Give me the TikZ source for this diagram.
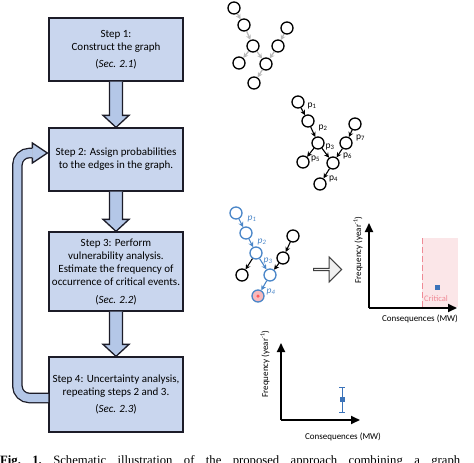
\documentclass[tikz,border=0pt]{standalone}
\usepackage{fontspec}
\setmainfont{Carlito}
\newfontfamily\capfont{Liberation Serif}
\usetikzlibrary{arrows.meta,calc,shapes.arrows}

\definecolor{boxblue}{HTML}{C9D6EE}
\definecolor{arrowblue}{HTML}{B4C7E7}
\definecolor{edgeblue}{HTML}{4A86C8}
\definecolor{critpink}{HTML}{F08A96}
\definecolor{critfill}{HTML}{FBE6E8}
\definecolor{markblue}{HTML}{3B73B9}
\definecolor{nodepink}{HTML}{F6B9BC}
\definecolor{outline}{HTML}{1C1C28}

\tikzset{
    stepbox/.style={draw=outline, line width=1.3pt, fill=boxblue, minimum width=134pt,
                    align=center, inner sep=2pt, font=\fontsize{11}{13}\selectfont},
    blockarrow/.style={draw=outline, line width=1.3pt, fill=arrowblue},
    vertex/.style={circle, draw, line width=1.3pt, minimum size=12pt, inner sep=0pt, fill=white},
    lab/.style={inner sep=0pt, font=\fontsize{9.5}{10}\selectfont},
    tip/.style={-{Stealth[length=5pt,width=5pt]}},
    axis/.style={line width=1.8pt, -{Triangle[length=9pt,width=8pt]}},
    axlabel/.style={inner sep=0pt, font=\fontsize{9}{10}\selectfont}
}

\begin{document}
\begin{tikzpicture}[x=1pt,y=-1pt]
    \useasboundingbox (0,0) rectangle (474,463);

    % flow chart
    \node (S1) [stepbox, minimum height=63pt] at (116,49.5)
        {Step 1:\\Construct the graph\\[4pt](\textit{Sec. 2.1})};
    \node (S2) [stepbox, minimum height=63pt] at (116,159.5)
        {Step 2: Assign probabilities\\to the edges in the graph.};
    \node (S3) [stepbox, minimum height=79pt] at (116,271.5)
        {Step 3: Perform\\vulnerability analysis.\\Estimate the frequency of\\occurrence of critical events.\\[5pt](\textit{Sec. 2.2})};
    \node (S4) [stepbox, minimum height=75pt] at (116,394.5)
        {Step 4: Uncertainty analysis,\\repeating steps 2 and 3.\\[4pt](\textit{Sec. 2.3})};

    \foreach \a/\b in {S1/S2, S2/S3, S3/S4}
        \draw [blockarrow] ($(\a.south)+(-6.5,0)$) -- ($(\b.north)+(-6.5,-12)$)
            -- ($(\b.north)+(-13,-12)$) -- (\b.north) -- ($(\b.north)+(13,-12)$)
            -- ($(\b.north)+(6.5,-12)$) -- ($(\a.south)+(6.5,0)$);

    % feedback loop
    \draw [line width=1.3pt, draw=outline, double=arrowblue, double distance=8pt, rounded corners=12pt]
        ($(S4.west)+(0,3.5)$) -- ++(-31,0) -- ($(S2.west)+(-31,-6.5)$) -- ($(S2.west)+(-16,-6.5)$);
    \draw [blockarrow] ($(S2.west)+(-16,-11.2)$) -- ($(S2.west)+(-16,-16.5)$) -- ($(S2.west)+(-1,-6.5)$)
        -- ($(S2.west)+(-16,3.5)$) -- ($(S2.west)+(-16,-1.8)$);

    % graphs
    \begin{scope}[every node/.style={vertex}]
        \node (n1) at (234,8) {};
        \node (n2) at (244,25) {};
        \node (n3) at (253,46) {};
        \node (n4) at (239,63) {};
        \node (n5) at (266,64) {};
        \node (n6) at (278,46) {};
        \node (n7) at (287,28) {};
        \node (n8) at (254,83) {};

        \node (m1) at (298,102) {};
        \node (m2) at (308,121) {};
        \node (m3) at (318,143) {};
        \node (m5) at (303,162) {};
        \node (m4) at (333,163) {};
        \node (m6) at (346,143) {};
        \node (m7) at (355,124) {};
        \node (m8) at (320,184) {};

        \node (q1) [draw=edgeblue] at (236,213) {};
        \node (q2) [draw=edgeblue] at (246,233) {};
        \node (q3) [draw=edgeblue] at (256,253) {};
        \node (q5) at (242,275) {};
        \node (q4) [draw=edgeblue] at (270,275) {};
        \node (q6) at (283,258) {};
        \node (q7) at (293,236) {};
        \node (q8) [draw=edgeblue, fill=nodepink] at (258,296) {};
    \end{scope}
    \node (q8dot) [circle, fill=red!65, minimum size=3.5pt, inner sep=0pt] at (q8) {};

    \begin{scope}[every edge/.style={draw=gray!55, line width=1.3pt}]
        \path [tip] (n1) edge (n2) (n2) edge (n3) (n3) edge (n4) (n3) edge (n5)
              (n6) edge (n5) (n7) edge (n6) (n5) edge (n8);
    \end{scope}

    \begin{scope}[every edge/.style={draw=black, line width=1.1pt}]
        \path [tip] (m1) edge node[lab, xshift=9pt, yshift=5.5pt] {p\textsubscript{1}} (m2);
        \path [tip] (m2) edge node[lab, xshift=10pt, yshift=4pt] {p\textsubscript{2}} (m3);
        \path [tip] (m3) edge node[lab, xshift=4.5pt, yshift=6pt] {p\textsubscript{3}} (m4);
        \path [tip] (m3) edge node[lab, xshift=5pt, yshift=-6.5pt] {p\textsubscript{5}} (m5);
        \path [tip] (m6) edge node[lab, xshift=8pt, yshift=-3pt] {p\textsubscript{6}} (m4);
        \path [tip] (m7) edge node[lab, xshift=10pt, yshift=-4.5pt] {p\textsubscript{7}} (m6);
        \path [tip] (m4) edge node[lab, xshift=7pt, yshift=-5.5pt] {p\textsubscript{4}} (m8);

        \path [tip] (q3) edge (q5) (q7) edge (q6) (q6) edge (q4);
    \end{scope}

    \begin{scope}[every edge/.style={draw=edgeblue, line width=1.1pt},
                  every node/.style={lab, text=edgeblue, font=\fontsize{9.5}{10}\selectfont\itshape}]
        \path [tip] (q1) edge node[xshift=11pt, yshift=4pt] {p\textsubscript{1}} (q2);
        \path [tip] (q2) edge node[xshift=11pt, yshift=1pt] {p\textsubscript{2}} (q3);
        \path [tip] (q3) edge node[xshift=5pt, yshift=3pt] {p\textsubscript{3}} (q4);
        \path [tip] (q4) edge node[xshift=7pt, yshift=-6.5pt] {p\textsubscript{4}} (q8);
    \end{scope}

    \node (toplot) [single arrow, draw=gray!50!black, fill=gray!12, line width=1pt, inner sep=0pt,
        minimum width=25pt, minimum height=28pt, single arrow head extend=5pt] at (327,269.5) {};

    % frequency-consequence plot with critical region
    \coordinate (O1) at (369,308);
    \fill [critfill] (422,238) rectangle (458,307);
    \draw [critpink, line width=1pt, dash pattern=on 6pt off 3pt] (422,238) -- (422,307);
    \node (crit) [inner sep=0pt, text=critpink, font=\fontsize{8.5}{9}\selectfont] at (436,299) {Critical};
    \node (pt1) [fill=markblue, minimum size=5pt, inner sep=0pt] at (437,287) {};
    \draw [axis] (O1) -- ++(0,-85);
    \draw [axis] (O1) -- ++(88,0);
    \node (freq1) [axlabel, rotate=90] at (358,250) {Frequency (year\textsuperscript{-1})};
    \node (cons1) [axlabel] at (420,319) {Consequences (MW)};

    % plot with uncertainty
    \coordinate (O2) at (281,420);
    \draw [axis] (O2) -- ++(0,-77);
    \draw [axis] (O2) -- ++(79,0);
    \draw [markblue, line width=1pt] (342,387) -- (342,412) (339,387) -- (345,387) (339,412) -- (345,412);
    \node (pt2) [fill=markblue, minimum size=5pt, inner sep=0pt] at (342,399) {};
    \node (freq2) [axlabel, rotate=90] at (265,364) {Frequency (year\textsuperscript{-1})};
    \node (cons2) [axlabel] at (343,437) {Consequences (MW)};

    % caption, cut by the page edge
    \node (caption) [anchor=base west, inner sep=0pt, font=\capfont\fontsize{12.7}{14}\selectfont] at (0,464)
        {\frenchspacing\makebox[460pt][s]{\textbf{Fig. 1.} Schematic illustration of the proposed approach combining a graph}};
\end{tikzpicture}
\end{document}
